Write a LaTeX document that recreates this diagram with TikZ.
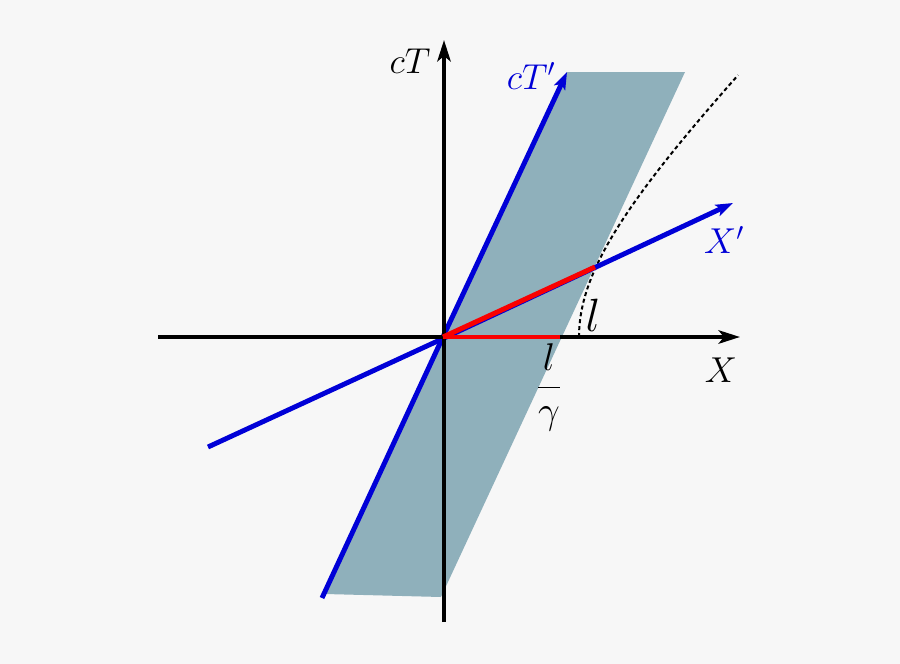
\RequirePackage{fix-cm}
\documentclass[tikz,border=0pt]{standalone}
\usetikzlibrary{arrows.meta}
\definecolor{bg}{RGB}{247,247,247}
\definecolor{stripcol}{RGB}{143,176,187}
\definecolor{myblue}{RGB}{0,0,215}
\definecolor{myred}{RGB}{250,0,0}
\tikzset{
  axis/.style={line width=3.7pt, draw=black, -{Stealth[length=16pt,width=10pt,inset=4pt]}},
  baxis/.style={line width=3.7pt, draw=myblue, -{Stealth[length=13pt,width=9pt,inset=3pt]}},
  bline/.style={line width=3.7pt, draw=myblue},
  rline/.style={line width=3.7pt, draw=myred},
  lab/.style={font=\fontsize{27}{31}\selectfont, inner sep=0pt},
  big/.style={font=\fontsize{35}{40}\selectfont, inner sep=0pt},
  fracstyle/.style={font=\fontsize{29}{34}\selectfont, inner sep=0pt},
}
\begin{document}
\begin{tikzpicture}[x=0.75pt,y=-0.75pt]
\fill[bg] (0,0) rectangle (900,664);
\useasboundingbox (0,0) rectangle (900,664);
% coordinates
\coordinate (O) at (443,337);
\coordinate (Ob) at (442,339);
\coordinate (ctp) at (567,72);
\coordinate (ctm) at (322,598);
\coordinate (xp) at (733,203);
\coordinate (xm) at (208,447);
\coordinate (sh1) at (685,72);
\coordinate (sh2) at (441,597);
\coordinate (sh3) at (325,594);
\coordinate (xa1) at (158,337);
\coordinate (xa2) at (740,337);
\coordinate (ya1) at (444,622);
\coordinate (ya2) at (444,40);
\coordinate (r1) at (560,337);
\coordinate (r2) at (595,267);
% shaded strip
\fill[fill=stripcol] (ctp) -- (sh1) -- (sh2) -- (sh3) -- cycle;
% hyperbola
\draw[line width=1.5pt, dash pattern=on 3pt off 2.2pt] plot[domain=0:1.41, samples=60, smooth] ({443+136*cosh(\x)}, {337-136*sinh(\x)});
% primed axes
\draw[bline] (xm) -- (Ob);
\draw[baxis] (Ob) -- (xp);
\draw[bline] (ctm) -- (Ob);
\draw[baxis] (Ob) -- (ctp);
% axes
\draw[axis] (xa1) -- (xa2);
\draw[axis] (ya1) -- (ya2);
% red segments
\draw[rline] (O) -- (r1);
\draw[rline] (O) -- (r2);
% labels
\node[lab] (lct) at (410,61) {$cT$};
\node[lab, text=myblue] (lctp) at (531,76) {$cT'$};
\node[lab, text=myblue] (lxp) at (724,240) {$X'$};
\node[lab] (lx) at (721,370) {$X$};
\node[big] (ll) at (593,315) {$l$};
\node[fracstyle] (lf) at (549,387) {$\displaystyle\frac{l}{\gamma}$};
\end{tikzpicture}
\end{document}
